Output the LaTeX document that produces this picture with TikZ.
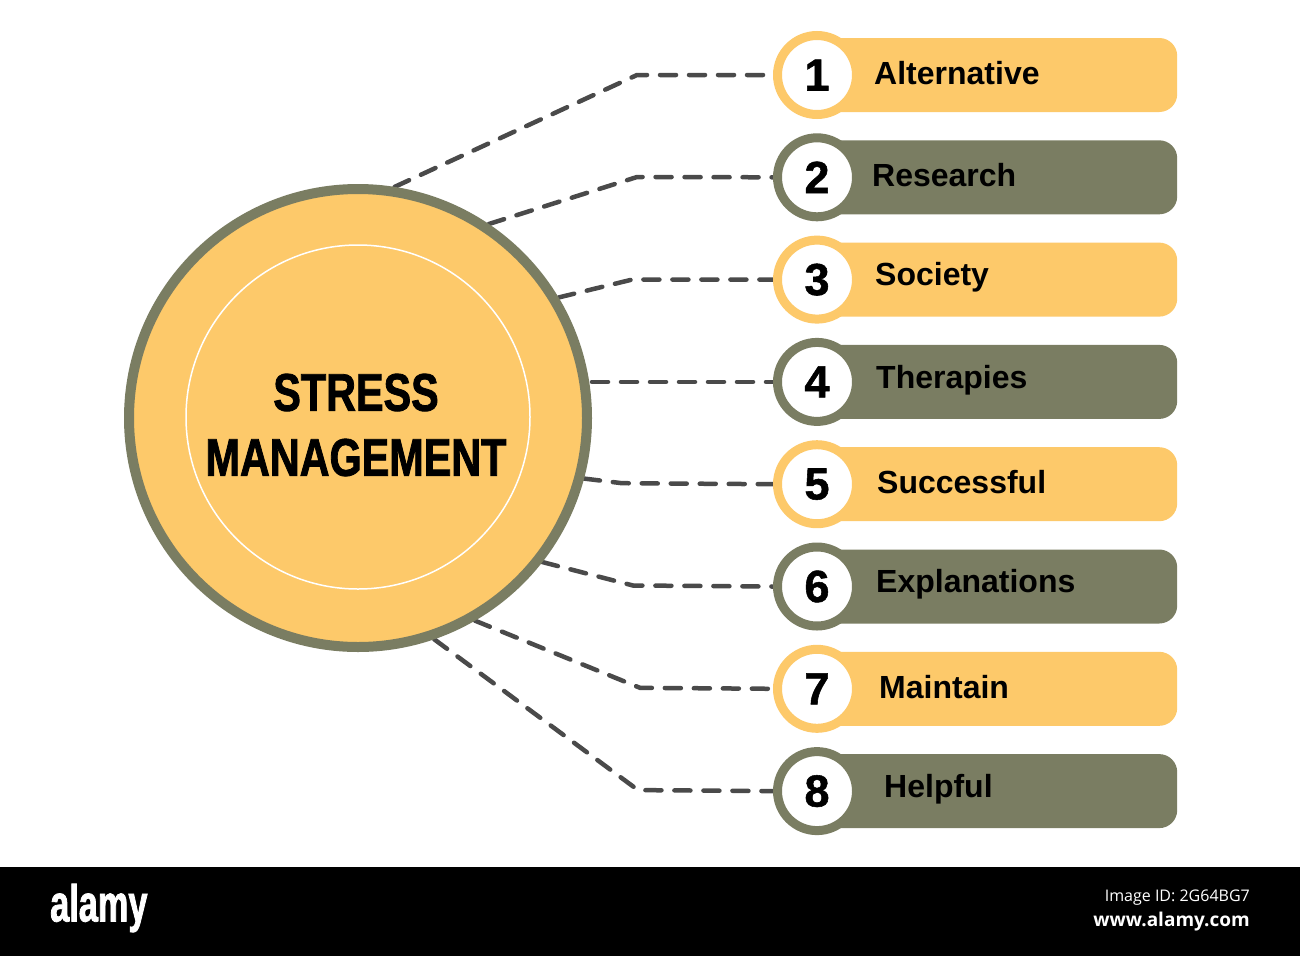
\documentclass[tikz,border=0pt]{standalone}
\usepackage{fontspec}
\setmainfont{Liberation Sans}
\newfontfamily\titlefont[FakeStretch=0.78,FakeBold=1.5]{Liberation Sans Bold}
\newfontfamily\numfont[FakeBold=1.2]{Liberation Sans Bold}
\newfontfamily\footfont{Open Sans}
\newfontfamily\alamyfont[FakeStretch=0.66,FakeBold=1.5]{Liberation Sans Bold}
\definecolor{sunny}{HTML}{FDC96A}
\definecolor{olive}{HTML}{7A7D62}
\definecolor{dashgray}{HTML}{4A4A4A}
\pgfdeclarelayer{bg}
\pgfdeclarelayer{lines}
\pgfsetlayers{bg,lines,main}
\begin{document}
\begin{tikzpicture}[x=1pt,y=-1pt,
  bar/.style={draw=none,fill=#1,rounded corners=18pt,minimum width=360pt,minimum height=74pt,anchor=west,inner sep=0pt},
  badge/.style={circle,draw=#1,line width=9pt,fill=white,minimum size=79pt,inner sep=0pt,
     font=\numfont\fontsize{45}{47}\selectfont},
  lbl/.style={anchor=west,inner sep=0pt,font=\fontsize{32}{36}\selectfont\bfseries},
  conn/.style={draw=dashgray,line width=4.5pt,line cap=round,dash pattern=on 16pt off 13pt},
]
\useasboundingbox (0,0) rectangle (1300,956);
\begin{pgfonlayer}{bg}
\fill[white] (0,0) rectangle (1300,956);
\end{pgfonlayer}

% main circle
\node[circle,draw=olive,fill=sunny,line width=10pt,minimum size=458pt,inner sep=0pt] (main) at (358,418) {};
\node[circle,draw=white,line width=1.5pt,minimum size=344pt,inner sep=0pt] (inner) at (358,417) {};
\node[align=center,inner sep=0pt,font=\titlefont\fontsize{53}{65}\selectfont] (title) at (356,425) {STRESS\\MANAGEMENT};

% rows
\foreach \i/\c/\t/\lx [evaluate=\i as \yy using 75+(\i-1)*102.3] in
  {1/sunny/Alternative/874, 2/olive/Research/872, 3/sunny/Society/875, 4/olive/Therapies/876,
   5/sunny/Successful/877, 6/olive/Explanations/876, 7/sunny/Maintain/879, 8/olive/Helpful/884}{
  \node[bar=\c] (bar\i) at (817,\yy) {};
  \node[badge=\c] (b\i) at (817,\yy) {\i};
  \node[lbl] (l\i) at (\lx,\yy-2) {\t};
}

% knees
\coordinate (k1) at (637,75);
\coordinate (k2) at (637,177);
\coordinate (k3) at (632,279.6);
\coordinate (k5) at (622,483.2);
\coordinate (k6) at (633,585.5);
\coordinate (k7) at (640,687.8);
\coordinate (k8) at (638,790.1);

% connectors (behind circle and badges)
\begin{pgfonlayer}{lines}
\draw[conn] (main.81.7) -- (k1) -- (b1.west);
\draw[conn] (main.56) -- (k2) -- (b2.west);
\draw[conn] (main.31) -- (k3) -- (b3.west);
\draw[conn] (main.east |- b4.west) -- (b4.west);
\draw[conn] (main.-15.4) -- (k5) -- (b5.west);
\draw[conn] (main.-38) -- (k6) -- (b6.west);
\draw[conn] (main.-60) -- (k7) -- (b7.west);
\draw[conn] (main.-71) -- (k8) -- (b8.west);
\end{pgfonlayer}

% footer band
\fill[black] (0,867) rectangle (1300,956);
\node[anchor=west,inner sep=0pt,text=white,font=\alamyfont\fontsize{52}{52}\selectfont] (alamy) at (50,908) {alamy};
\node[anchor=east,inner sep=0pt,text=white,font=\footfont\fontsize{16}{18}\selectfont] (imgid) at (1250,898) {Image ID: 2G64BG7};
\node[anchor=east,inner sep=0pt,text=white,font=\footfont\fontsize{19}{21}\selectfont\bfseries] (www) at (1250,922) {www.alamy.com};
\end{tikzpicture}
\end{document}
